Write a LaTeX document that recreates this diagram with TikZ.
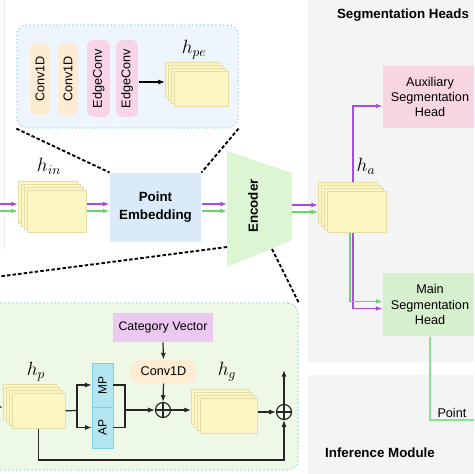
\documentclass[tikz,border=0pt]{standalone}
\usepackage{fontspec}
\setmainfont{Liberation Sans}
\usetikzlibrary{arrows.meta}

\definecolor{panelgray}{HTML}{F4F4F4}
\definecolor{zoomblue}{HTML}{EEF5FC}
\definecolor{zoomgreen}{HTML}{EEF8E6}
\definecolor{zoomedge}{HTML}{8ED8E4}
\definecolor{convorange}{HTML}{FDEBD2}
\definecolor{edgepink}{HTML}{F8D4E7}
\definecolor{mapyellow}{HTML}{FCF6C2}
\definecolor{mapedge}{HTML}{E3DDA8}
\definecolor{embedblue}{HTML}{DAEAF8}
\definecolor{encgreen}{HTML}{DCF5D3}
\definecolor{catpurple}{HTML}{EBC9F0}
\definecolor{poolcyan}{HTML}{B2E7F2}
\definecolor{pooledge}{HTML}{7FD0E0}
\definecolor{auxpink}{HTML}{F8D5E2}
\definecolor{maingreen}{HTML}{D6EFCD}
\definecolor{flowpurple}{HTML}{A94BE3}
\definecolor{flowgreen}{HTML}{62D86A}

\tikzset{every picture/.style={line width=0.75pt}}
\tikzset{
  pxsize/.style 2 args={minimum width=#1*0.75pt, minimum height=#2*0.75pt},
  block/.style={inner sep=0pt, align=center, font=\fontsize{9.5}{11.6}\selectfont},
  bigblock/.style={inner sep=0pt, align=center, font=\bfseries\fontsize{10}{13.5}\selectfont},
  mapbox/.style={draw=mapedge, fill=mapyellow, line width=0.5pt, inner sep=0pt},
  zoombox/.style={draw=zoomedge, dotted, rounded corners=7.5pt, line width=0.9pt},
  zoomline/.style={dash pattern=on 2.6pt off 1.6pt, line width=1.4pt},
  purp/.style={flowpurple, line width=0.9pt, -{Latex[length=5pt,width=3.6pt]}},
  gren/.style={flowgreen, line width=0.9pt, -{Latex[length=5pt,width=3.6pt]}},
  flow/.style={black!85, line width=0.9pt, -{Latex[length=5pt,width=3.8pt]}},
  plain/.style={black!85, line width=0.9pt},
  oplus/.style={circle, draw=black!85, line width=0.9pt, minimum size=11.25pt, inner sep=0pt,
    path picture={\draw[black!85, line width=0.9pt]
      (path picture bounding box.north) -- (path picture bounding box.south)
      (path picture bounding box.west) -- (path picture bounding box.east);}},
  title/.style={font=\bfseries\fontsize{10}{12}\selectfont},
  hlabel/.style={font=\Large, inner sep=0pt}
}

% feature map stack: name, back-left x, back-top y, width, height
\newcommand{\featmap}[5]{%
  \node[mapbox, pxsize={#4}{#5}, anchor=north west] (#1b) at (#2,#3) {};
  \foreach \d in {3,6}
    \node[mapbox, pxsize={#4}{#5}, anchor=north west] at (#2+\d,#3+\d) {};
  \node[mapbox, pxsize={#4}{#5}, anchor=north west] (#1) at (#2+9,#3+9) {};
}

\begin{document}
\begin{tikzpicture}[x=0.75pt,y=0.75pt,yscale=-1,xscale=1]
	\useasboundingbox (0,0) rectangle (474,474);
	\clip (0,0) rectangle (474,474);
	\fill[white] (0,0) rectangle (474,474);

	% gray panels
	\fill[panelgray] (308,0) rectangle (474,362);
	\fill[panelgray] (308,375) rectangle (474,474);
	\draw[black!8, line width=0.6pt] (4,0) -- (4,250);
	\node[title] (headtitle) at (403,15) {Segmentation Heads};
	\node[title] (infertitle) at (380,453) {Inference Module};

	% helper rows for the two flows
	\coordinate (purpy) at (0,204);
	\coordinate (greeny) at (0,211);

	%Shape: embedding detail
	\node[zoombox, fill=zoomblue, pxsize={221}{103}] (embdetail) at (127.5,76.5) {};
	\node[block, fill=convorange, rounded corners=5pt, pxsize={20}{72}] (conva) at (40,79) {\rotatebox{90}{Conv1D}};
	\node[block, fill=convorange, rounded corners=5pt, pxsize={20}{72}] (convb) at (68,79) {\rotatebox{90}{Conv1D}};
	\node[block, fill=edgepink, rounded corners=5pt, pxsize={23}{77}] (edgea) at (98.5,78.5) {\rotatebox{90}{EdgeConv}};
	\node[block, fill=edgepink, rounded corners=5pt, pxsize={22}{77}] (edgeb) at (127,78.5) {\rotatebox{90}{EdgeConv}};
	\featmap{hpe}{165}{62}{54}{35}
	\node[hlabel] (hpelab) at (194,50) {$h_{pe}$};
	\draw[flow, black] (edgeb.east |- 0,82) -- (hpeb.west |- 0,82);

	%Shape: input and point embedding
	\coordinate (inp) at (-4,0);
	\featmap{hin}{18}{181}{59}{42}
	\node[hlabel] (hinlab) at (49,166) {$h_{in}$};
	\node[bigblock, fill=embedblue, pxsize={91}{69}] (pe) at (155.5,207.5) {Point\\Embedding};

	%Shape: encoder
	\fill[encgreen] (227,151) coordinate (encnw) -- (292,173) coordinate (encne)
	  -- (292,240) coordinate (encse) -- (227,267) coordinate (encsw) -- cycle;
	\node[bigblock] (enc) at (253,206) {\rotatebox{90}{Encoder}};
	\coordinate (enczl) at (227,247);
	\coordinate (enczr) at (272,249);

	%Shape: encoder detail
	\node[zoombox, fill=zoomgreen, pxsize={498}{167}] (encdetail) at (49,386.5) {};
	\node[block, fill=catpurple, pxsize={100}{29}, font=\fontsize{9.3}{11}\selectfont] (cat) at (163,327.5) {Category Vector};
	\node[block, fill=convorange, rounded corners=8pt, pxsize={67}{23}] (conv) at (163.5,371.5) {Conv1D};
	\node[oplus] (sumg) at (163,410) {};
	\node[block, fill=poolcyan, draw=pooledge, line width=0.5pt, pxsize={21}{44}, font=\fontsize{9}{11}\selectfont] (mp) at (102.5,385) {\rotatebox{90}{MP}};
	\node[block, fill=poolcyan, draw=pooledge, line width=0.5pt, pxsize={21}{41}, font=\fontsize{9}{11}\selectfont] (ap) at (102.5,427.5) {\rotatebox{90}{AP}};
	\featmap{hp}{3}{384}{53}{35}
	\node[hlabel] (hplab) at (36,372) {$h_{p}$};
	\featmap{hg}{191}{389}{57}{35}
	\node[hlabel] (hglab) at (227,372) {$h_{g}$};
	\node[oplus] (sumo) at (284,412) {};
	\coordinate (hpin) at (-6,407);
	\coordinate (split) at (77,410.5);
	\coordinate (merge) at (125,410);
	\coordinate (sumout) at (284,370);
	\coordinate (skiprow) at (0,460);

	%Shape: segmentation heads
	\featmap{ha}{318}{182}{59}{41}
	\node[hlabel] (halab) at (366,166) {$h_{a}$};
	\node[block, fill=auxpink, pxsize={94}{62}] (aux) at (430,97) {Auxiliary\\Segmentation\\Head};
	\node[block, fill=maingreen, pxsize={94}{63}] (main) at (430,304.5) {Main\\Segmentation\\Head};
	\coordinate (tapP) at (353,0);
	\coordinate (tapG) at (350,0);
	\coordinate (pointend) at (480,420);
	\node[block, anchor=south west] (pointlab) at (437,418) {Point};

	% zoom lines
	\draw[zoomline] (embdetail.south west) -- (pe.north west);
	\draw[zoomline] (embdetail.south east) -- (pe.north east);
	\draw[zoomline] (enczl) -- (encdetail.north west);
	\draw[zoomline] (enczr) -- (encdetail.north east);

	% main flow
	\draw[purp] (inp |- purpy) -- (hinb.west |- purpy);
	\draw[gren] (inp |- greeny) -- (hinb.west |- greeny);
	\draw[purp] (hin.east |- purpy) -- (pe.west |- purpy);
	\draw[gren] (hin.east |- greeny) -- (pe.west |- greeny);
	\draw[purp] (pe.east |- purpy) -- (encnw |- purpy);
	\draw[gren] (pe.east |- greeny) -- (encnw |- greeny);
	\draw[purp] (encne |- 0,205) -- (hab.west |- 0,205);
	\draw[gren] (encne |- 0,212) -- (hab.west |- 0,212);

	% heads
	\draw[purp] (hab.north -| tapP) |- ([yshift=6.75pt]aux.west);
	\draw[purp] (ha.south -| tapP) |- ([yshift=3pt]main.west);
	\draw[gren] (ha.south -| tapG) |- ([yshift=-2.3pt]main.west);
	\draw[flowgreen!75, line width=0.9pt] (main.south) |- (pointend);

	% encoder detail flow
	\draw[flow] (hpin) -- (hpb.west |- hpin);
	\draw[plain] (hp.east) -- (split);
	\draw[flow] (split) |- (mp.west);
	\draw[flow] (split) |- (ap.west);
	\draw[plain] (mp.east) -| (merge) |- (ap.east);
	\draw[flow] (merge) -- (sumg.west);
	\draw[flow] (cat.south) -- (conv.north);
	\draw[flow] (conv.south) -- (sumg.north);
	\draw[flow] (sumg.east) -- (hgb.west |- sumg.east);
	\draw[flow] (hg.east |- sumo.west) -- (sumo.west);
	\draw[flow] (sumo.north) -- (sumout);
	\draw[flow] (hp.south) -- (hp.south |- skiprow) -| (sumo.south);

\end{tikzpicture}
\end{document}
